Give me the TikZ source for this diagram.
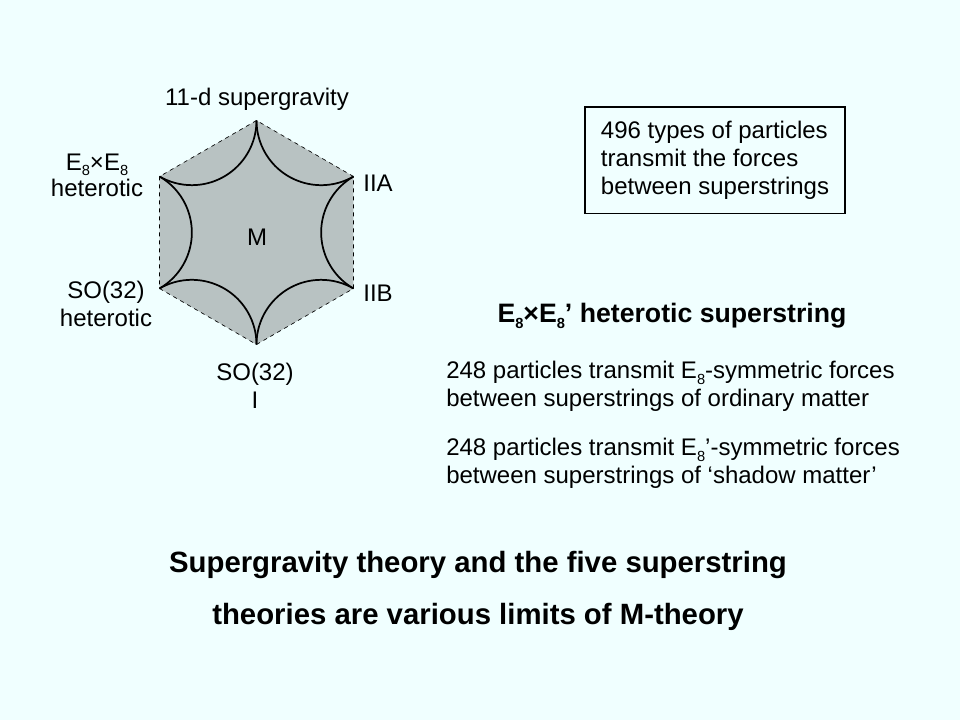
\documentclass[tikz,border=0pt]{standalone}
\usepackage{fontspec}
\setmainfont{Liberation Sans}
\usetikzlibrary{positioning}
\definecolor{bgcyan}{RGB}{240,255,255}
\definecolor{hexgrey}{RGB}{184,194,194}
\newcommand{\subidx}[1]{\raisebox{-0.45ex}{\fontsize{11}{11}\selectfont #1}}
\tikzset{
  lbl/.style={align=center,inner sep=0pt},
  para/.style={align=left,anchor=west,inner sep=0pt},
  cusp/.style={line width=1.3pt}
}
\begin{document}
\begin{tikzpicture}[x=0.75pt,y=-0.75pt,every node/.style={font=\fontsize{18}{21}\selectfont}]
\fill[bgcyan] (0,0) rectangle (960,720);
\useasboundingbox (0,0) rectangle (960,720);

% hexagon of the five string theories and 11-d supergravity
\coordinate (hexc) at (256.5,232.5);
\foreach \a [count=\i] in {90,30,...,-210} \path (hexc) ++(\a:112) coordinate (v\i);
\draw[fill=hexgrey,dashed,line width=0.5pt] (v1)--(v2)--(v3)--(v4)--(v5)--(v6)--cycle;
\foreach \i in {1,...,6} {
  \pgfmathsetmacro{\a}{150-60*\i}
  \draw[cusp] (v\i) arc[start angle=\a+90, end angle=\a+210, radius=64.66];
}

\node[lbl](m) at (257,237) {M};
\node[lbl](sugra) at (257,99) {11-d supergravity};
\node[lbl](iia) at (378,183) {IIA};
\node[lbl](iib) at (378,293) {IIB};
\node[lbl,font=\fontsize{18}{19.5}\selectfont](e8het) at (97,175) {E\subidx{8}×E\subidx{8}\\heterotic};
\node[lbl](sohet) at (106,304) {SO(32)\\heterotic};
\node[lbl](soi) at (255,386) {SO(32)\\I};

% right hand side
\node[draw,line width=1pt,align=left,minimum width=195pt,minimum height=80pt](count) at (715,160.5)
  {496 types of particles\\transmit the forces\\between superstrings};
\node[lbl,font=\fontsize{20}{23}\bfseries](head) at (672,316) {E\subidx{8}×E\subidx{8}’ heterotic superstring};
\node[para](ord) at (446,386.5) {248 particles transmit E\subidx{8}-symmetric forces\\between superstrings of ordinary matter};
\node[para](shad) at (446,463.5) {248 particles transmit E\subidx{8}’-symmetric forces\\between superstrings of ‘shadow matter’};

% caption
\node[lbl,font=\fontsize{22}{25}\bfseries](cap1) at (478,565) {Supergravity theory and the five superstring};
\node[lbl,font=\fontsize{22}{25}\bfseries](cap2) at (478,617) {theories are various limits of M-theory};
\end{tikzpicture}
\end{document}
